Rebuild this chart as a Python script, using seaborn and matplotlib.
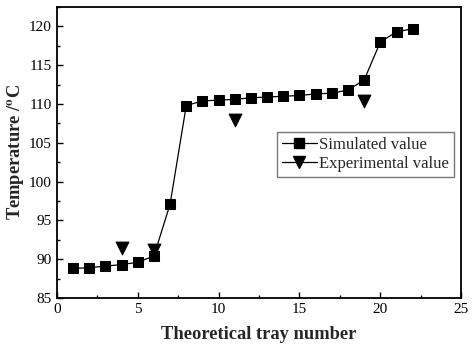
import pandas as pd
import seaborn as sns
import matplotlib.pyplot as plt
from matplotlib.lines import Line2D
import matplotlib.ticker as ticker

sim_tray = list(range(1, 23))
sim_temp = [88.8, 88.9, 89.1, 89.3, 89.6, 90.4, 97.1, 109.8, 110.4, 110.5, 110.6,
            110.8, 110.9, 111.0, 111.1, 111.3, 111.4, 111.8, 113.1, 118.0, 119.3, 119.7]
exp_tray = [4, 6, 11, 19]
exp_temp = [91.4, 91.2, 108.0, 110.4]

sim_df = pd.DataFrame({'tray': sim_tray, 'temp': sim_temp})
exp_df = pd.DataFrame({'tray': exp_tray, 'temp': exp_temp})

sns.set_style('ticks')
plt.rcParams['font.family'] = ['Liberation Serif', 'DejaVu Serif']
plt.rcParams['mathtext.fontset'] = 'stix'

fig = plt.figure(figsize=(4.74, 3.53), dpi=100)
ax = fig.add_axes([0.120, 0.156, 0.853, 0.824])

sns.lineplot(x='tray', y='temp', data=sim_df, ax=ax, color='black', linewidth=0.9,
             marker='s', markersize=7.5, markeredgecolor='black')
sns.scatterplot(x='tray', y='temp', data=exp_df, ax=ax, color='black', marker='v',
                s=85, edgecolor='black', zorder=3)

ax.set_xlim(0, 25)
ax.set_ylim(85, 122.5)
ax.xaxis.set_major_locator(ticker.MultipleLocator(5))
ax.xaxis.set_minor_locator(ticker.MultipleLocator(2.5))
ax.yaxis.set_major_locator(ticker.MultipleLocator(5))
ax.yaxis.set_minor_locator(ticker.MultipleLocator(2.5))
ax.tick_params(which='both', direction='in', labelsize=11, width=1.0, colors='black')
ax.tick_params(which='major', length=4)
ax.tick_params(which='minor', length=2.5)
for s in ax.spines.values():
    s.set_linewidth(1.3)
    s.set_color('black')

ax.set_xlabel('Theoretical tray number', fontsize=13.3, fontweight='bold', labelpad=7)
ax.set_ylabel('Temperature /$^{\\mathbf{o}}$C', fontsize=13.3, fontweight='bold', labelpad=2)

handles = [Line2D([], [], color='black', lw=0.9, marker='s', markersize=7.5),
           Line2D([], [], color='black', lw=0.9, marker='v', markersize=8.5)]
ax.legend(handles, ['Simulated value', 'Experimental value'], loc='lower right',
          bbox_to_anchor=(0.983, 0.416), fontsize=12, frameon=True, fancybox=False,
          edgecolor='#555555', handlelength=2.1, handletextpad=0.15, borderpad=0.3,
          labelspacing=0.2, borderaxespad=0)

plt.savefig('out.png', dpi=100)
